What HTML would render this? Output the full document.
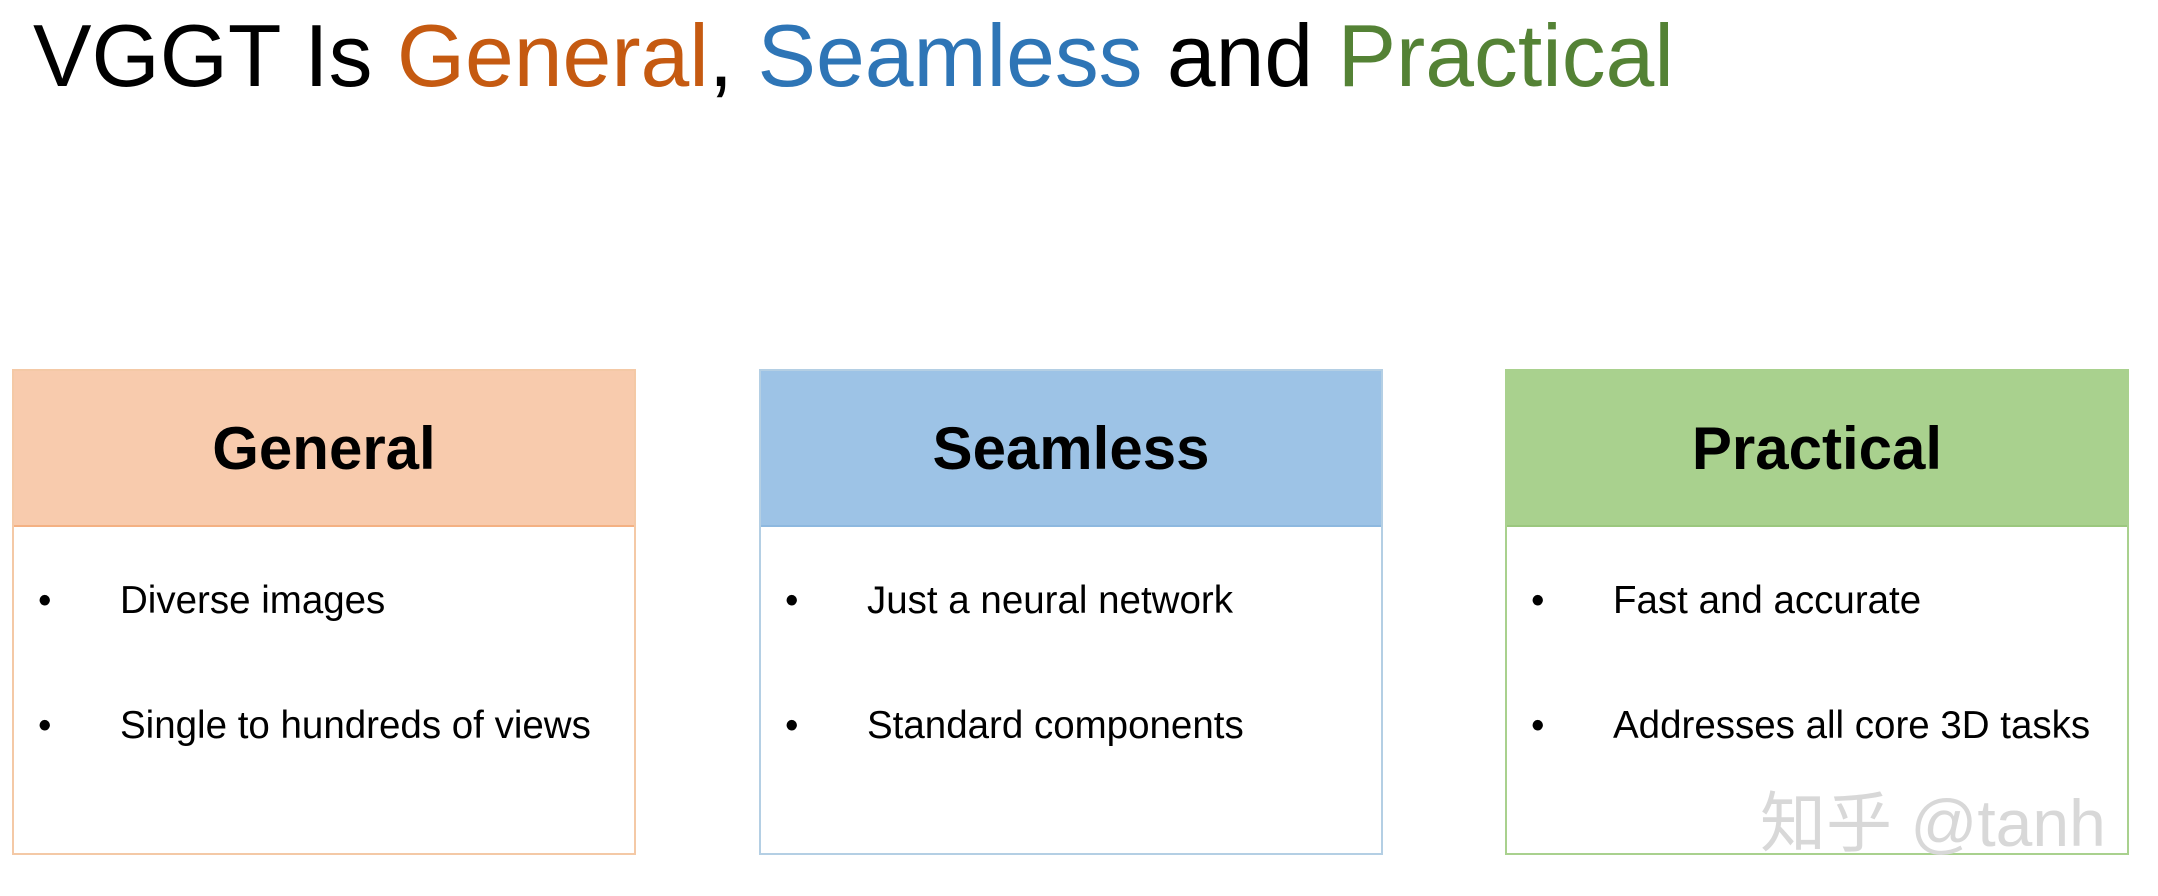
<!DOCTYPE html>
<html><head><meta charset="utf-8"><style>
body{margin:0;width:2158px;height:896px;background:#fff;position:relative;overflow:hidden;font-family:"Liberation Sans",Arial,sans-serif}
.t{position:absolute;left:33px;top:1px;font-size:87.7px;white-space:nowrap;color:#000;line-height:110px}
.box{position:absolute;top:369px;width:620px;height:482px;border:2px solid}
.hd{height:154px;display:flex;align-items:center;justify-content:center;font-weight:bold;font-size:60px}
.li{position:absolute;left:24px;font-size:38.5px;white-space:nowrap}
.li span{position:absolute;left:82px}
.wm{position:absolute;left:1760px;top:770px;font-size:66px;color:#d8d8d8;font-family:"Liberation Sans","Noto Sans CJK SC",sans-serif;white-space:nowrap}
</style></head><body>
<div class="t">VGGT Is <span style="color:#c55a11">General</span>, <span style="color:#2e75b6">Seamless</span> and <span style="color:#548235">Practical</span></div>

<div class="box" style="left:12px;border-color:#f4c9a6">
<div class="hd" style="background:#f8cbad;border-bottom:2px solid #f4b183">General</div>
<div class="li" style="top:208px">•<span>Diverse images</span></div>
<div class="li" style="top:333px">•<span>Single to hundreds of views</span></div>
</div>

<div class="box" style="left:759px;border-color:#b4cfe4">
<div class="hd" style="background:#9dc3e6;border-bottom:2px solid #8db8df">Seamless</div>
<div class="li" style="top:208px">•<span>Just a neural network</span></div>
<div class="li" style="top:333px">•<span>Standard components</span></div>
</div>

<div class="box" style="left:1505px;border-color:#a9d18e">
<div class="hd" style="background:#a9d18e;border-bottom:2px solid #9bc77e">Practical</div>
<div class="li" style="top:208px">•<span>Fast and accurate</span></div>
<div class="li" style="top:333px">•<span>Addresses all core 3D tasks</span></div>
</div>

<div class="wm">知乎 @tanh</div>
</body></html>
